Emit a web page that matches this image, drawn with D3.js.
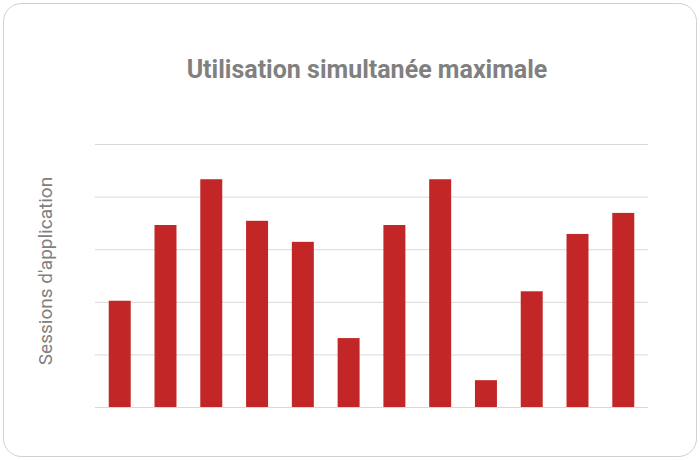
<!DOCTYPE html>
<html><head><meta charset="utf-8">
<script src="https://cdn.jsdelivr.net/npm/d3@7"></script>
<style>body{margin:0;background:#fff}</style></head>
<body><svg id="c" width="700" height="460"></svg>
<script>
const categories = ["1","2","3","4","5","6","7","8","9","10","11","12"];
const values = [2.02,3.46,4.33,3.54,3.14,1.31,3.46,4.33,0.51,2.2,3.29,3.69];
const gridTicks = [0,1,2,3,4,5];
const title = "Utilisation simultanée maximale";
const yTitle = "Sessions d'application";

const svg = d3.select("#c");
svg.append("rect").attr("x",3.5).attr("y",3.5).attr("width",693).attr("height",453)
  .attr("rx",18).attr("fill","#fff").attr("stroke","#d0d0d0").attr("stroke-width",1);
const m = {l:95, r:648, t:144, b:407};
const x = d3.scaleBand().domain(categories).range([m.l,m.r]).paddingInner(0.52).paddingOuter(0.3);
const y = d3.scaleLinear().domain([0,5]).range([m.b,m.t]);
svg.append("g").selectAll("line").data(gridTicks).join("line")
  .attr("x1",m.l).attr("x2",m.r).attr("y1",d=>y(d)+0.5).attr("y2",d=>y(d)+0.5)
  .attr("stroke","#d9d9d9").attr("stroke-width",1);
svg.append("g").selectAll("rect").data(values).join("rect")
  .attr("x",(d,i)=>x(categories[i])).attr("width",x.bandwidth())
  .attr("y",d=>y(d)).attr("height",d=>y(0)-y(d)).attr("fill","#c22626");
svg.append("text").attr("x",367).attr("y",78).attr("text-anchor","middle")
  .attr("font-family","Roboto").attr("font-weight","bold").attr("font-size",25)
  .attr("fill","#808080").text(title);
svg.append("text").attr("transform","translate(52,271) rotate(-90)").attr("text-anchor","middle")
  .attr("font-family","Roboto").attr("font-size",19).attr("fill","#808080").text(yTitle);
</script></body></html>
